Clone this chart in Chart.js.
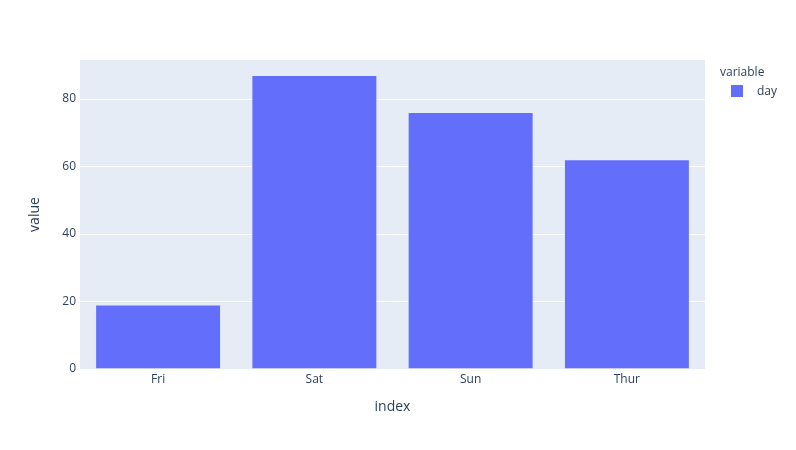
<!DOCTYPE html>
<html>
<head>
<meta charset="utf-8">
<script src="https://cdn.jsdelivr.net/npm/chart.js@4"></script>
<style>
  body { margin: 0; background: #fff; }
  #wrap { position: relative; width: 796px; height: 450px; }
  .legend { position: absolute; font-family: "Open Sans", Arial, sans-serif; color: #2a3f5f; }
  #legTitle { left: 720px; top: 63px; font-size: 12px; }
  #legItem { left: 731px; top: 82px; font-size: 12px; }
  #legItem span.box { display: inline-block; width: 12px; height: 12px; background: #636efa; vertical-align: -2px; margin-right: 14px; }
</style>
</head>
<body>
<div id="wrap">
  <canvas id="chart" width="796" height="450"></canvas>
  <div class="legend" id="legTitle">variable</div>
  <div class="legend" id="legItem"><span class="box"></span>day</div>
</div>
<script>
'use strict'

const categories = ['Fri', 'Sat', 'Sun', 'Thur']
const dayValues = [19, 87, 76, 62]
const yTicks = [0, 20, 40, 60, 80]

const fontColor = '#2a3f5f'
const fontFamily = '"Open Sans", Arial, sans-serif'

// plot background like plotly
const plotBg = {
  id: 'plotBg',
  beforeDraw(chart) {
    const { ctx, chartArea } = chart
    ctx.save()
    ctx.fillStyle = '#e5ecf6'
    ctx.fillRect(chartArea.left, chartArea.top, chartArea.right - chartArea.left, chartArea.bottom - chartArea.top)
    ctx.restore()
  }
}

const ctx = document.getElementById('chart').getContext('2d')
const chart = new Chart(ctx, {
  type: 'bar',
  data: {
    labels: categories,
    datasets: [{
      label: 'day',
      data: dayValues,
      backgroundColor: '#636efa',
      borderColor: '#e5ecf6',
      borderWidth: 0.5,
      barPercentage: 0.8,
      categoryPercentage: 1
    }]
  },
  options: {
    responsive: false,
    animation: false,
    events: [],
    layout: { padding: { left: 0, top: 60, right: 91, bottom: 0 } },
    plugins: {
      legend: { display: false },
      tooltip: { enabled: false }
    },
    scales: {
      x: {
        grid: { display: false, drawTicks: false },
        border: { display: false },
        ticks: { color: fontColor, font: { family: fontFamily, size: 12 }, padding: 3 },
        title: {
          display: true, text: 'index', color: fontColor,
          font: { family: fontFamily, size: 14 },
          padding: { top: 0, bottom: 35 }
        },
        afterFit(scale) { scale.height = 81 }
      },
      y: {
        min: 0,
        max: 91.58,
        afterBuildTicks(scale) { scale.ticks = yTicks.map(v => ({ value: v })) },
        grid: { color: '#ffffff', lineWidth: 1, drawTicks: false },
        border: { display: false },
        ticks: { color: fontColor, font: { family: fontFamily, size: 12 }, padding: 4 },
        title: {
          display: true, text: 'value', color: fontColor,
          font: { family: fontFamily, size: 14 },
          padding: { top: 27, bottom: 0 }
        },
        afterFit(scale) { scale.width = 80 }
      }
    }
  },
  plugins: [plotBg]
})
</script>
</body>
</html>
